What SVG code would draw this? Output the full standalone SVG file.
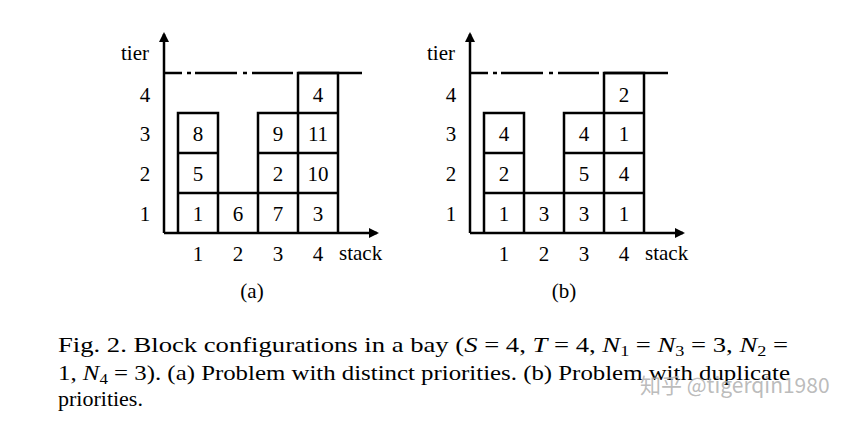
<svg xmlns="http://www.w3.org/2000/svg" width="845" height="426" viewBox="0 0 845 426">
<style>
text{font-family:"Liberation Serif",serif;font-size:21px;fill:#000}
.c{text-anchor:middle}
.b{fill:none;stroke:#000;stroke-width:2.5}
.ax{stroke:#000;stroke-width:2.5;fill:none}
.i{font-style:italic}
.cap{font-size:22px}
</style>
<defs><marker id="ar" markerWidth="10" markerHeight="10" refX="8" refY="5" orient="auto" markerUnits="userSpaceOnUse" viewBox="0 0 10 10"><path d="M0,0L10,5L0,10z" fill="#000"/></marker>
<g id="frame">
<path class="ax" d="M164,233V34" marker-end="url(#ar)"/>
<path class="ax" d="M164,233H377" marker-end="url(#ar)"/>
<path class="ax" d="M164,73H182M187,73H191M195,73H237M243,73H247M252,73H293M298,73H362"/>
<path class="b" d="M178,233V113H218V233M178,193H258M178,153H218M258,233V113H298M258,153H338M258,193H338M298,233V73H338V233M298,113H338"/>
<text x="145" y="221" class="c">1</text><text x="145" y="181" class="c">2</text><text x="145" y="141" class="c">3</text><text x="145" y="102" class="c">4</text>
<text x="135" y="60" class="c">tier</text>
<text x="198" y="261" class="c">1</text><text x="238" y="261" class="c">2</text><text x="278" y="261" class="c">3</text><text x="318" y="261" class="c">4</text>
<text x="339" y="260">stack</text>
</g></defs>
<g id="a">
<use href="#frame"/>
<text x="198" y="221" class="c">1</text><text x="238" y="221" class="c">6</text><text x="278" y="221" class="c">7</text><text x="318" y="221" class="c">3</text>
<text x="198" y="181" class="c">5</text><text x="278" y="181" class="c">2</text><text x="318" y="181" class="c">10</text>
<text x="198" y="141" class="c">8</text><text x="278" y="141" class="c">9</text><text x="318" y="141" class="c">11</text>
<text x="318" y="102" class="c">4</text>
<text x="252" y="298" class="c">(a)</text>
</g>
<g id="b" transform="translate(306,0)">
<use href="#frame"/>
<text x="198" y="221" class="c">1</text><text x="238" y="221" class="c">3</text><text x="278" y="221" class="c">3</text><text x="318" y="221" class="c">1</text>
<text x="198" y="181" class="c">2</text><text x="278" y="181" class="c">5</text><text x="318" y="181" class="c">4</text>
<text x="198" y="141" class="c">4</text><text x="278" y="141" class="c">4</text><text x="318" y="141" class="c">1</text>
<text x="318" y="102" class="c">2</text>
<text x="258" y="298" class="c">(b)</text>
</g>
<g id="caption">
<text class="cap" x="58" y="352" textLength="730" lengthAdjust="spacingAndGlyphs">Fig. 2.   Block configurations in a bay (<tspan class="i">S</tspan> = 4, <tspan class="i">T</tspan> = 4, <tspan class="i">N</tspan><tspan font-size="15" dy="4">1</tspan><tspan dy="-4"> = </tspan><tspan class="i">N</tspan><tspan font-size="15" dy="4">3</tspan><tspan dy="-4"> = 3, </tspan><tspan class="i">N</tspan><tspan font-size="15" dy="4">2</tspan><tspan dy="-4"> =</tspan></text>
<text class="cap" x="58" y="380" textLength="732" lengthAdjust="spacingAndGlyphs">1, <tspan class="i">N</tspan><tspan font-size="15" dy="4">4</tspan><tspan dy="-4"> = 3). (a) Problem with distinct priorities. (b) Problem with duplicate</tspan></text>
<text class="cap" x="58" y="406">priorities.</text>
</g>
<text x="640" y="393" style="font-family:'Noto Sans CJK SC','Noto Sans',sans-serif;font-size:21px;fill:#aaa;fill-opacity:0.8">知乎 @tigerqin1980</text>
</svg>
